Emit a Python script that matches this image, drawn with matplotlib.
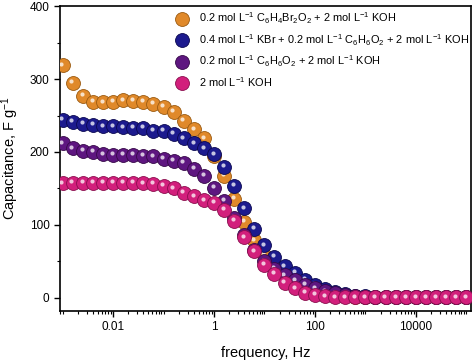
import matplotlib
matplotlib.use("Agg")
import matplotlib.pyplot as plt
import matplotlib.transforms as mtransforms
from matplotlib.ticker import LogLocator, NullFormatter, FixedLocator, FixedFormatter, MultipleLocator

plt.rcParams['font.family'] = ['Liberation Sans', 'DejaVu Sans']
plt.rcParams['mathtext.fontset'] = 'custom'
plt.rcParams['mathtext.rm'] = 'Liberation Sans'
plt.rcParams['mathtext.it'] = 'Liberation Sans'

freq = [0.001, 0.00158, 0.00251, 0.00398, 0.00631,
        0.01, 0.0158, 0.0251, 0.0398, 0.0631,
        0.1, 0.158, 0.251, 0.398, 0.631,
        1.0, 1.58, 2.51, 3.98, 6.31,
        10.0, 15.8, 25.1, 39.8, 63.1,
        100.0, 158.0, 251.0, 398.0, 631.0,
        1000.0, 1580.0, 2510.0, 3980.0, 6310.0,
        10000.0, 15800.0, 25100.0, 39800.0, 63100.0, 100000.0]

cap_br = [319, 295, 277, 269, 268, 269, 271, 270, 269, 266,
          262, 255, 243, 231, 219, 195, 167, 136, 104, 79,
          59, 44, 33, 24, 17, 11, 7, 4, 2, 1,
          1, 0.5, 0.5, 0.5, 0.5, 0.5, 0.5, 0.5, 0.5, 0.5, 0.5]
cap_kbr = [244, 241, 239, 237, 235, 235, 234, 233, 233, 229,
           229, 225, 219, 212, 205, 197, 180, 154, 123, 95,
           72, 56, 43, 34, 25, 18, 12, 8, 5, 3,
           2, 1.5, 1, 1, 1, 1, 1, 1, 1, 1, 1]
cap_hq = [212, 205, 202, 200, 197, 196, 196, 196, 195, 194,
          191, 188, 185, 177, 167, 151, 133, 110, 86, 66,
          50, 40, 31, 24, 18, 13, 9, 6, 4, 2,
          1.5, 1, 1, 1, 1, 1, 1, 1, 1, 1, 1]
cap_koh = [157, 158, 158, 158, 158, 158, 158, 158, 157, 156,
           154, 150, 144, 139, 134, 130, 121, 106, 83, 64,
           45, 33, 21, 13, 7, 4, 2, 1, 1, 1,
           1, 1, 1, 1, 1, 1, 1, 1, 1, 1, 1]

labels = [r'0.2 mol L$^{\mathregular{-1}}$ C$_6$H$_4$Br$_2$O$_2$ + 2 mol L$^{\mathregular{-1}}$ KOH',
          r'0.4 mol L$^{\mathregular{-1}}$ KBr + 0.2 mol L$^{\mathregular{-1}}$ C$_6$H$_6$O$_2$ + 2 mol L$^{\mathregular{-1}}$ KOH',
          r'0.2 mol L$^{\mathregular{-1}}$ C$_6$H$_6$O$_2$ + 2 mol L$^{\mathregular{-1}}$ KOH',
          r'2 mol L$^{\mathregular{-1}}$ KOH']
colors = ['#E0892A', '#1C1A8E', '#5E1680', '#D21F7C']
edges = ['#9A5A10', '#0A0850', '#360848', '#8A0E4E']
series = [cap_br, cap_kbr, cap_hq, cap_koh]

fig = plt.figure(figsize=(4.74, 3.62), dpi=100)
ax = fig.add_axes([0.1266, 0.141, 0.868, 0.842])

hl = mtransforms.offset_copy(ax.transData, fig=fig, x=-1.2, y=1.6, units='dots')
handles = []
for i, (vals, c, e, lab) in enumerate(zip(series, colors, edges, labels)):
    h, = ax.plot(freq, vals, 'o', ms=10, mfc=c, mec=e, mew=0.6, ls='none',
                 label=lab, zorder=3 + i * 2)
    ax.plot(freq, vals, 'o', ms=3.0, mfc='white', mec='none', alpha=0.75,
            ls='none', transform=hl, zorder=3 + i * 2 + 1)
    handles.append(h)

ax.set_xscale('log')
ax.set_xlim(0.00089, 1.26e5)
ax.set_ylim(-18, 400)

ax.xaxis.set_major_locator(FixedLocator([0.01, 1, 100, 10000]))
ax.xaxis.set_major_formatter(FixedFormatter(['0.01', '1', '100', '10000']))
ax.xaxis.set_minor_locator(LogLocator(base=10, subs=[1, 2, 3, 4, 5, 6, 7, 8, 9], numticks=30))
ax.xaxis.set_minor_formatter(NullFormatter())
ax.yaxis.set_major_locator(MultipleLocator(100))
ax.yaxis.set_minor_locator(MultipleLocator(50))

ax.tick_params(which='major', direction='out', length=4.5, width=1, labelsize=8.5, pad=3)
ax.tick_params(which='minor', direction='out', length=2.5, width=0.8)
ax.tick_params(top=False, right=False, which='both')
for s in ax.spines.values():
    s.set_linewidth(1.2)

ax.set_xlabel('frequency, Hz', fontsize=10.5, labelpad=9)
ax.set_ylabel(r'Capacitance, F g$^{\mathregular{-1}}$', fontsize=10.5, labelpad=6)

leg = ax.legend(handles=handles, loc='upper left', bbox_to_anchor=(0.269, 1.0),
                frameon=False, fontsize=7.9, handletextpad=0.95, labelspacing=0.55,
                handlelength=1.2, markerscale=1.0, borderaxespad=0.0)
for lh in leg.legend_handles:
    lh.set_markersize(10)

fig.savefig('out.png', dpi=100)
